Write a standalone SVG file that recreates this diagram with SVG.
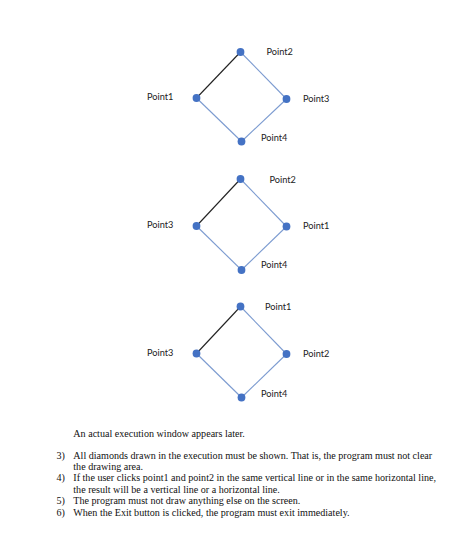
<svg xmlns="http://www.w3.org/2000/svg" width="474" height="542" viewBox="0 0 474 542">
<style>
.lbl{font-family:Lato,"Open Sans",sans-serif;font-size:9.2px;fill:#222}
.dot{fill:#4472C4}
.blue{stroke:#7C9BD0;stroke-width:1.1;fill:none}
.blk{stroke:#222;stroke-width:1.1;fill:none}
.txt{font-family:"Liberation Serif","Times New Roman",serif;font-size:10.1px;fill:#111}
</style>
<rect width="474" height="542" fill="#fff"/>
<g id="connectors">
<line class="blk" x1="240.5" y1="52" x2="196.5" y2="98"/>
<line class="blue" x1="240.5" y1="52" x2="286.5" y2="99"/>
<line class="blue" x1="196.5" y1="98" x2="241.5" y2="141.5"/>
<line class="blue" x1="286.5" y1="99" x2="241.5" y2="141.5"/>
<line class="blk" x1="240.5" y1="179" x2="196.5" y2="226"/>
<line class="blue" x1="240.5" y1="179" x2="286.5" y2="226.5"/>
<line class="blue" x1="196.5" y1="226" x2="241.5" y2="270"/>
<line class="blue" x1="286.5" y1="226.5" x2="241.5" y2="270"/>
<line class="blk" x1="240.5" y1="306.5" x2="196.5" y2="353.5"/>
<line class="blue" x1="240.5" y1="306.5" x2="286.5" y2="354"/>
<line class="blue" x1="196.5" y1="353.5" x2="241.5" y2="397.5"/>
<line class="blue" x1="286.5" y1="354" x2="241.5" y2="397.5"/>
</g>
<g id="d1-p2"><circle class="dot" cx="240.5" cy="52" r="3.9"/><text class="lbl" x="266.5" y="55">Point2</text></g>
<g id="d1-p1"><circle class="dot" cx="196.5" cy="98" r="3.9"/><text class="lbl" x="147" y="99.5">Point1</text></g>
<g id="d1-p3"><circle class="dot" cx="286.5" cy="99" r="3.9"/><text class="lbl" x="303" y="102">Point3</text></g>
<g id="d1-p4"><circle class="dot" cx="241.5" cy="141.5" r="3.9"/><text class="lbl" x="261" y="141">Point4</text></g>
<g id="d2-p2"><circle class="dot" cx="240.5" cy="179" r="3.9"/><text class="lbl" x="269.5" y="183">Point2</text></g>
<g id="d2-p3"><circle class="dot" cx="196.5" cy="226" r="3.9"/><text class="lbl" x="147" y="228">Point3</text></g>
<g id="d2-p1"><circle class="dot" cx="286.5" cy="226.5" r="3.9"/><text class="lbl" x="303" y="229">Point1</text></g>
<g id="d2-p4"><circle class="dot" cx="241.5" cy="270" r="3.9"/><text class="lbl" x="261" y="268">Point4</text></g>
<g id="d3-p1"><circle class="dot" cx="240.5" cy="306.5" r="3.9"/><text class="lbl" x="265" y="309.5">Point1</text></g>
<g id="d3-p3"><circle class="dot" cx="196.5" cy="353.5" r="3.9"/><text class="lbl" x="147" y="355.5">Point3</text></g>
<g id="d3-p2"><circle class="dot" cx="286.5" cy="354" r="3.9"/><text class="lbl" x="303" y="357">Point2</text></g>
<g id="d3-p4"><circle class="dot" cx="241.5" cy="397.5" r="3.9"/><text class="lbl" x="261" y="397">Point4</text></g>
<g id="notes" class="txt">
<text x="73.3" y="436.5">An actual execution window appears later.</text>
<text x="56.5" y="458.5">3)</text>
<text x="73.3" y="458.5">All diamonds drawn in the execution must be shown. That is, the program must not clear</text>
<text x="73.3" y="469.8">the drawing area.</text>
<text x="56.5" y="481.2">4)</text>
<text x="73.3" y="481.2">If the user clicks point1 and point2 in the same vertical line or in the same horizontal line,</text>
<text x="73.3" y="492.5">the result will be a vertical line or a horizontal line.</text>
<text x="56.5" y="503.9">5)</text>
<text x="73.3" y="503.9">The program must not draw anything else on the screen.</text>
<text x="56.5" y="515.8">6)</text>
<text x="73.3" y="515.8">When the Exit button is clicked, the program must exit immediately.</text>
</g>
</svg>
